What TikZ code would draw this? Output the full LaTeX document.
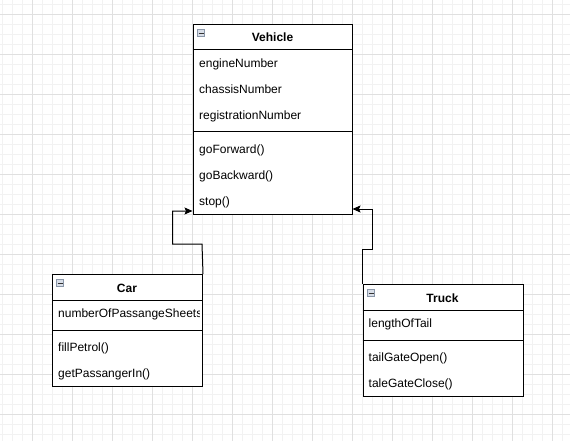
\documentclass[tikz,border=0pt]{standalone}
\usepackage{fontspec}
\setmainfont{Liberation Sans}
\usetikzlibrary{arrows.meta}
\definecolor{gridminor}{HTML}{F2F2F2}
\definecolor{gridmajor}{HTML}{E0E0E0}
\definecolor{iconfill}{HTML}{D8DEE8}
\definecolor{iconborder}{HTML}{8A96A8}
\tikzset{
  classbox/.style={draw=black, fill=white, line width=1pt, anchor=north west, inner sep=0pt},
  sepline/.style={draw=black, line width=1pt},
  attr/.style={anchor=base west, inner sep=0pt, font=\fontsize{12}{14}\selectfont},
  title/.style={anchor=base, inner sep=0pt, font=\fontsize{12}{14}\selectfont\bfseries},
  icon/.style={draw=iconborder, fill=iconfill, line width=0.6pt, minimum width=7pt, minimum height=7pt, inner sep=0pt},
  arr/.style={draw=black, line width=1pt, -{Stealth[length=8pt,width=7pt,inset=1.5pt]}}
}
\begin{document}
\begin{tikzpicture}[x=1pt,y=-1pt]
\useasboundingbox (0,0) rectangle (570,441);
\fill[white] (0,0) rectangle (570,441);
% grid
\foreach \x in {2,12,...,562} {\draw[gridminor, line width=0.8pt] (\x,0) -- (\x,441);}
\foreach \y in {4,14,...,434} {\draw[gridminor, line width=0.8pt] (0,\y) -- (570,\y);}
\foreach \x in {32,72,...,552} {\draw[gridmajor, line width=0.8pt] (\x,0) -- (\x,441);}
\foreach \y in {14,54,...,434} {\draw[gridmajor, line width=0.8pt] (0,\y) -- (570,\y);}

% ---------------- Vehicle
\node[classbox, minimum width=159pt, minimum height=190pt] (vehicle) at (193,24) {};
\draw[sepline] (193,50) -- (352,50);
\draw[sepline] (193,132) -- (352,132);
\node[icon] (vicon) at (201,33) {};
\draw[black!80, line width=0.8pt] (198.5,33) -- (203.5,33);
\node[title] (vtitle) at (272.5,42) {Vehicle};
\node[attr] (v1) at (199,67.3) {engineNumber};
\node[attr] (v2) at (199,93.3) {chassisNumber};
\node[attr] (v3) at (199,119.3) {registrationNumber};
\node[attr] (v4) at (199,153.3) {goForward()};
\node[attr] (v5) at (199,179.3) {goBackward()};
\node[attr] (v6) at (199,205.3) {stop()};

% ---------------- Car
\node[classbox, minimum width=150pt, minimum height=112pt] (car) at (52,274) {};
\draw[sepline] (52,300) -- (202,300);
\draw[sepline] (52,330) -- (202,330);
\node[icon] (cicon) at (60,283) {};
\draw[black!80, line width=0.8pt] (57.5,283) -- (62.5,283);
\node[title] (ctitle) at (127,292) {Car};
\begin{scope}
\clip (52,300) rectangle (199.5,326);
\node[attr] (c1) at (58,317.3) {numberOfPassangeSheets};
\end{scope}
\node[attr] (c2) at (58,351.3) {fillPetrol()};
\node[attr] (c3) at (58,377.3) {getPassangerIn()};

% ---------------- Truck
\node[classbox, minimum width=160pt, minimum height=112pt] (truck) at (362.5,284) {};
\draw[sepline] (362.5,310) -- (522.5,310);
\draw[sepline] (362.5,340) -- (522.5,340);
\node[icon] (ticon) at (371,293) {};
\draw[black!80, line width=0.8pt] (368.5,293) -- (373.5,293);
\node[title] (ttitle) at (442.5,302) {Truck};
\node[attr] (t1) at (368.5,327.3) {lengthOfTail};
\node[attr] (t2) at (368.5,361.3) {tailGateOpen()};
\node[attr] (t3) at (368.5,387.3) {taleGateClose()};

% ---------------- connectors
\coordinate (vl) at (192.5,211);
\coordinate (vr) at (352.5,209);
\draw[arr] (car.north east) -- (202,244) -- (172.5,244) -- (172.5,211) -- (vl);
\draw[arr] (truck.north west) -- (362.5,249) -- (372.5,249) -- (372.5,209) -- (vr);
\end{tikzpicture}
\end{document}
